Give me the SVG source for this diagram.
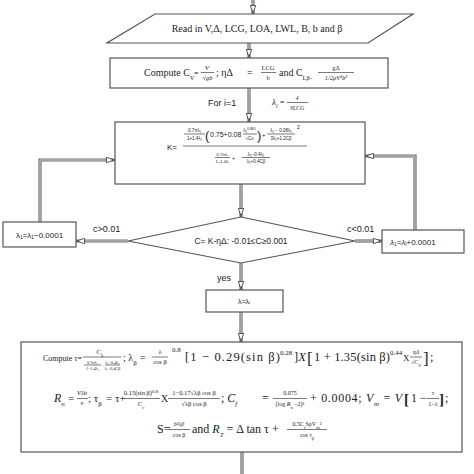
<svg xmlns="http://www.w3.org/2000/svg" width="474" height="474" viewBox="0 0 474 474">
<defs>
<marker id="ah" markerWidth="9" markerHeight="7" refX="8" refY="3.5" orient="auto" markerUnits="userSpaceOnUse">
<path d="M0.5,0.8 L8,3.5 L0.5,6.2 Z" fill="#fff" stroke="#444" stroke-width="0.9"/>
</marker>
<style>
.bx{fill:#fff;stroke:#555;stroke-width:1.2}
.pipe{fill:none;stroke:#6e6e6e;stroke-width:3.2}
.core{fill:none;stroke:#d4d4d4;stroke-width:1}
.fb{stroke:#222;stroke-width:0.6}
.sr{font-family:"Liberation Serif","Times New Roman",serif;fill:#222}
.ss{font-family:"Liberation Sans",Arial,sans-serif;fill:#222}
.it{font-style:italic}
.c{text-anchor:middle}
</style>
</defs>
<rect width="474" height="474" fill="#fff"/>

<g id="connectors">
<path class="pipe" d="M253,0 V14"/><path class="core" d="M253,0 V13" marker-end="url(#ah)"/>
<path class="pipe" d="M249,43 V58"/><path class="core" d="M249,43 V57" marker-end="url(#ah)"/>
<path class="pipe" d="M249,88 V122"/><path class="core" d="M249,88 V121" marker-end="url(#ah)"/>
<path class="pipe" d="M241,184 V217"/><path class="core" d="M241,184 V216" marker-end="url(#ah)"/>
<path class="pipe" d="M128,241 H76"/><path class="core" d="M128,241 H77" marker-end="url(#ah)"/>
<path class="pipe" d="M355,241 H382"/><path class="core" d="M355,241 H381" marker-end="url(#ah)"/>
<path class="pipe" d="M40,222 V160 H115"/><path class="core" d="M40,222 V160 H114" marker-end="url(#ah)"/>
<path class="pipe" d="M415,230 V156 H365"/><path class="core" d="M415,230 V156 H366" marker-end="url(#ah)"/>
<path class="pipe" d="M241,263 V290"/><path class="core" d="M241,263 V289" marker-end="url(#ah)"/>
<path class="pipe" d="M241,312 V342"/><path class="core" d="M241,312 V341" marker-end="url(#ah)"/>
<path class="pipe" d="M242,452 V474"/><path class="core" d="M242,452 V474"/>
<text class="ss" x="208" y="106" font-size="9">For i=1</text>
<text class="sr it" x="272" y="105" font-size="9">λ<tspan font-size="6" baseline-shift="sub">i</tspan></text>
<text class="sr" x="280" y="105" font-size="8">=</text>
<text class="sr it c" x="297" y="100" font-size="6">4</text>
<line class="fb" x1="287" y1="102.5" x2="308" y2="102.5"/>
<text class="sr it c" x="297" y="110" font-size="6">3LCG</text>
<text class="ss" x="93" y="232" font-size="9">c&gt;0.01</text>
<text class="ss" x="347" y="232" font-size="9">c&lt;0.01</text>
<text class="ss" x="217" y="281" font-size="9">yes</text>
</g>

<g id="read">
<polygon class="bx" points="155,14 413,14 368,43 107,43"/>
<text class="sr c" x="257" y="32" font-size="10">Read in V,Δ, LCG, LOA, LWL, B, b and β</text>
</g>

<g id="compute1">
<rect class="bx" x="110" y="58" width="278" height="30"/>
<text class="sr" x="144" y="76" font-size="10">Compute C<tspan font-size="6.5" baseline-shift="sub">V</tspan></text>
<text class="sr" x="194" y="76" font-size="8">=</text>
<text class="sr it c" x="207" y="70" font-size="7">V</text>
<line class="fb" x1="201" y1="72.5" x2="214" y2="72.5"/>
<text class="sr it c" x="207.5" y="80" font-size="6.5">√gb</text>
<text class="sr" x="216" y="76" font-size="10">; ηΔ</text>
<text class="sr" x="247" y="76" font-size="10">=</text>
<text class="sr c" x="268" y="70" font-size="6.5">LCG</text>
<line class="fb" x1="261" y1="72.5" x2="276" y2="72.5"/>
<text class="sr c" x="268" y="80" font-size="6.5">b</text>
<text class="sr" x="279" y="76" font-size="10">and C<tspan font-size="6.5" baseline-shift="sub">Lβ-</tspan></text>
<text class="sr c" x="336" y="70" font-size="6.5">gΔ</text>
<line class="fb" x1="318" y1="72.5" x2="354" y2="72.5"/>
<text class="sr it c" x="336" y="80" font-size="6.5">1/2ρV²b²</text>
</g>

<g id="kbox">
<rect class="bx" x="115" y="122" width="250" height="62"/>
<text class="ss" x="167" y="150" font-size="8">K=</text>
<line class="fb" x1="183" y1="146" x2="307" y2="146"/>
<text class="ss c" x="194.5" y="132" font-size="4.5">0.7πλ₁</text>
<line class="fb" x1="184" y1="134" x2="205" y2="134"/>
<text class="ss c" x="194.5" y="139.5" font-size="4.5">1+1.4λ₁</text>
<text class="ss" x="205" y="140" font-size="13" font-weight="lighter">(</text>
<text class="ss" x="210" y="137" font-size="7">0.75+0.08</text>
<text class="ss c" x="249.5" y="131.5" font-size="4.5">λ₁<tspan font-size="3.5" baseline-shift="super">0.865</tspan></text>
<line class="fb" x1="243" y1="134" x2="257" y2="134"/>
<text class="ss c" x="249.5" y="140" font-size="4.5">√Cv</text>
<text class="ss" x="257" y="140" font-size="13" font-weight="lighter">)</text>
<text class="ss" x="262" y="137" font-size="6">+</text>
<text class="ss c" x="281" y="131.5" font-size="4.5">λ₁ − 0.08λ₁</text>
<line class="fb" x1="267" y1="134" x2="295" y2="134"/>
<text class="ss c" x="281" y="140" font-size="4.5">3λ₁+1.2Cβ</text>
<text class="ss" x="297" y="129" font-size="5">2</text>
<text class="ss c" x="222.5" y="155.5" font-size="4.2">0.7πλ₁</text>
<line class="fb" x1="215" y1="157.5" x2="230" y2="157.5"/>
<text class="ss c" x="222.5" y="162.5" font-size="4.2">1+1.4λ₁</text>
<text class="ss" x="232" y="160" font-size="5">+</text>
<text class="ss c" x="256" y="155.5" font-size="4.5">λ₁−0.4λ₁</text>
<line class="fb" x1="242" y1="157.5" x2="270" y2="157.5"/>
<text class="ss c" x="256" y="163" font-size="4.5">λ₁+0.4Cβ</text>
</g>

<g id="decision">
<polygon class="bx" points="241,217 355,241 241,263 128,241"/>
<text class="ss c" x="241" y="244" font-size="8.5">C= K-ηΔ:  -0.01≤C≥0.001</text>
</g>

<g id="dec-left">
<rect class="bx" x="3" y="222" width="73" height="25"/>
<text class="ss c" x="39.5" y="237.5" font-size="8">λ₁=λ₁−0.0001</text>
</g>

<g id="inc-right">
<rect class="bx" x="382" y="230" width="82" height="23"/>
<text class="ss" x="390" y="245" font-size="8"><tspan class="it">λ</tspan>₁=<tspan class="it">λ</tspan>ᵢ+0.0001</text>
</g>

<g id="lam">
<rect class="bx" x="206" y="290" width="77" height="22"/>
<text class="ss c" x="244" y="304" font-size="7">λ=λᵢ</text>
</g>

<g id="compute2">
<rect class="bx" x="21" y="342" width="441" height="110"/>
<!-- line 1 -->
<text class="sr" x="43" y="361" font-size="9" textLength="39" lengthAdjust="spacingAndGlyphs">Compute τ=</text>
<text class="sr it c" x="100" y="354" font-size="7">C<tspan font-size="5" baseline-shift="sub">L</tspan></text>
<line class="fb" x1="83" y1="357" x2="121" y2="357"/>
<text class="sr c" x="92.5" y="363.5" font-size="4.2">0.7πλ₁</text>
<line class="fb" x1="84" y1="365" x2="101" y2="365"/>
<text class="sr c" x="92.5" y="370" font-size="4.2">1−1.4λ₁</text>
<text class="sr" x="101.5" y="367" font-size="5">+</text>
<text class="sr c" x="112.5" y="363.5" font-size="4.2">λ₁−0.4λ₁</text>
<line class="fb" x1="105" y1="365" x2="120" y2="365"/>
<text class="sr c" x="112.5" y="370" font-size="4.2">λ₁+0.4Cβ</text>
<text class="sr" x="123" y="361" font-size="10">; λ<tspan font-size="7" baseline-shift="sub">β</tspan></text>
<text class="sr" x="140" y="361" font-size="10">=</text>
<text class="sr c" x="160" y="354" font-size="6.5">λ</text>
<line class="fb" x1="152" y1="357" x2="168" y2="357"/>
<text class="sr c" x="160" y="364" font-size="6.5">cos β</text>
<text class="sr" x="172" y="352" font-size="7">0.8</text>
<text class="sr" x="185" y="361" font-size="12.5" textLength="95" lengthAdjust="spacing">[1 − 0.29(sin β)</text>
<text class="sr" x="280" y="355" font-size="7">0.28</text>
<text class="sr" x="294" y="361" font-size="12.5">]<tspan class="it">X</tspan></text>
<text class="sr" x="307" y="364" font-size="17" font-weight="lighter">[</text>
<text class="sr" x="314" y="361" font-size="12.5" textLength="76" lengthAdjust="spacing">1 + 1.35(sin β)</text>
<text class="sr" x="390" y="355" font-size="7">0.44</text>
<text class="sr" x="403" y="361" font-size="9">X</text>
<text class="sr it c" x="416" y="354" font-size="6">ηΔ</text>
<line class="fb" x1="410" y1="357" x2="422" y2="357"/>
<text class="sr it c" x="416" y="364" font-size="6">√C<tspan font-size="4.5" baseline-shift="sub">V</tspan></text>
<text class="sr" x="423" y="364" font-size="17" font-weight="lighter">]</text>
<text class="sr" x="430" y="361" font-size="12">;</text>
<!-- line 2 -->
<text class="sr it" x="54" y="402" font-size="12">R<tspan font-size="7" baseline-shift="sub">n</tspan></text>
<text class="sr" x="68" y="402" font-size="11">=</text>
<text class="sr it c" x="82" y="395" font-size="6.5">Vλb</text>
<line class="fb" x1="77" y1="398.5" x2="88" y2="398.5"/>
<text class="sr it c" x="82" y="405" font-size="6.5">ν</text>
<text class="sr" x="88" y="402" font-size="11">; τ<tspan font-size="7" baseline-shift="sub">β</tspan></text>
<text class="sr" x="106" y="402" font-size="11">= τ+</text>
<text class="sr c" x="141" y="395" font-size="6.5">0.15(sin β)<tspan font-size="5" baseline-shift="super">0.8</tspan></text>
<line class="fb" x1="122" y1="398.5" x2="160" y2="398.5"/>
<text class="sr it c" x="141" y="406" font-size="6.5">C<tspan font-size="5" baseline-shift="sub">v</tspan></text>
<text class="sr" x="161" y="402" font-size="10">X</text>
<text class="sr c" x="194" y="395" font-size="6.5">1−0.17√λβ cos β</text>
<line class="fb" x1="168" y1="398.5" x2="220" y2="398.5"/>
<text class="sr c" x="194" y="406" font-size="6.5">√λβ cos β</text>
<text class="sr" x="221" y="402" font-size="12">; <tspan class="it">C</tspan><tspan class="it" font-size="7" baseline-shift="sub">f</tspan></text>
<text class="sr" x="262" y="402" font-size="12">=</text>
<text class="sr c" x="290" y="395" font-size="6">0.075</text>
<line class="fb" x1="273" y1="398.5" x2="307" y2="398.5"/>
<text class="sr c" x="290" y="406" font-size="6">(log <tspan class="it">R</tspan><tspan font-size="4.5" baseline-shift="sub">n</tspan> −2)²</text>
<text class="sr" x="310" y="402" font-size="12" textLength="92" lengthAdjust="spacing">+ 0.0004; <tspan class="it">V</tspan><tspan class="it" font-size="7" baseline-shift="sub">m</tspan> = <tspan class="it">V</tspan></text>
<text class="sr" x="404" y="404" font-size="15" font-weight="bold">[</text>
<text class="sr" x="411" y="402" font-size="12">1 −</text>
<text class="sr c" x="433" y="395" font-size="6.5">τ</text>
<line class="fb" x1="427" y1="398.5" x2="439" y2="398.5"/>
<text class="sr c" x="433" y="406" font-size="6">1−λ</text>
<text class="sr" x="439" y="404" font-size="15" font-weight="bold">]</text>
<text class="sr" x="445" y="402" font-size="12">;</text>
<!-- line 3 -->
<text class="sr" x="157" y="433" font-size="12">S=</text>
<text class="sr it c" x="179" y="426" font-size="6">b²λβ</text>
<line class="fb" x1="169" y1="429.5" x2="190" y2="429.5"/>
<text class="sr c" x="179" y="437" font-size="6">cos β</text>
<text class="sr" x="192" y="433" font-size="12">and <tspan class="it">R</tspan><tspan class="it" font-size="7" baseline-shift="sub">T</tspan> = Δ tan τ +</text>
<text class="sr c" x="307" y="426" font-size="6">0.5C<tspan font-size="4.5" baseline-shift="sub">f</tspan>SρV<tspan font-size="4.5" baseline-shift="sub">m</tspan>²</text>
<line class="fb" x1="287" y1="429.5" x2="327" y2="429.5"/>
<text class="sr c" x="307" y="437" font-size="6">cos τ<tspan font-size="4.5" baseline-shift="sub">β</tspan></text>
</g>
</svg>
